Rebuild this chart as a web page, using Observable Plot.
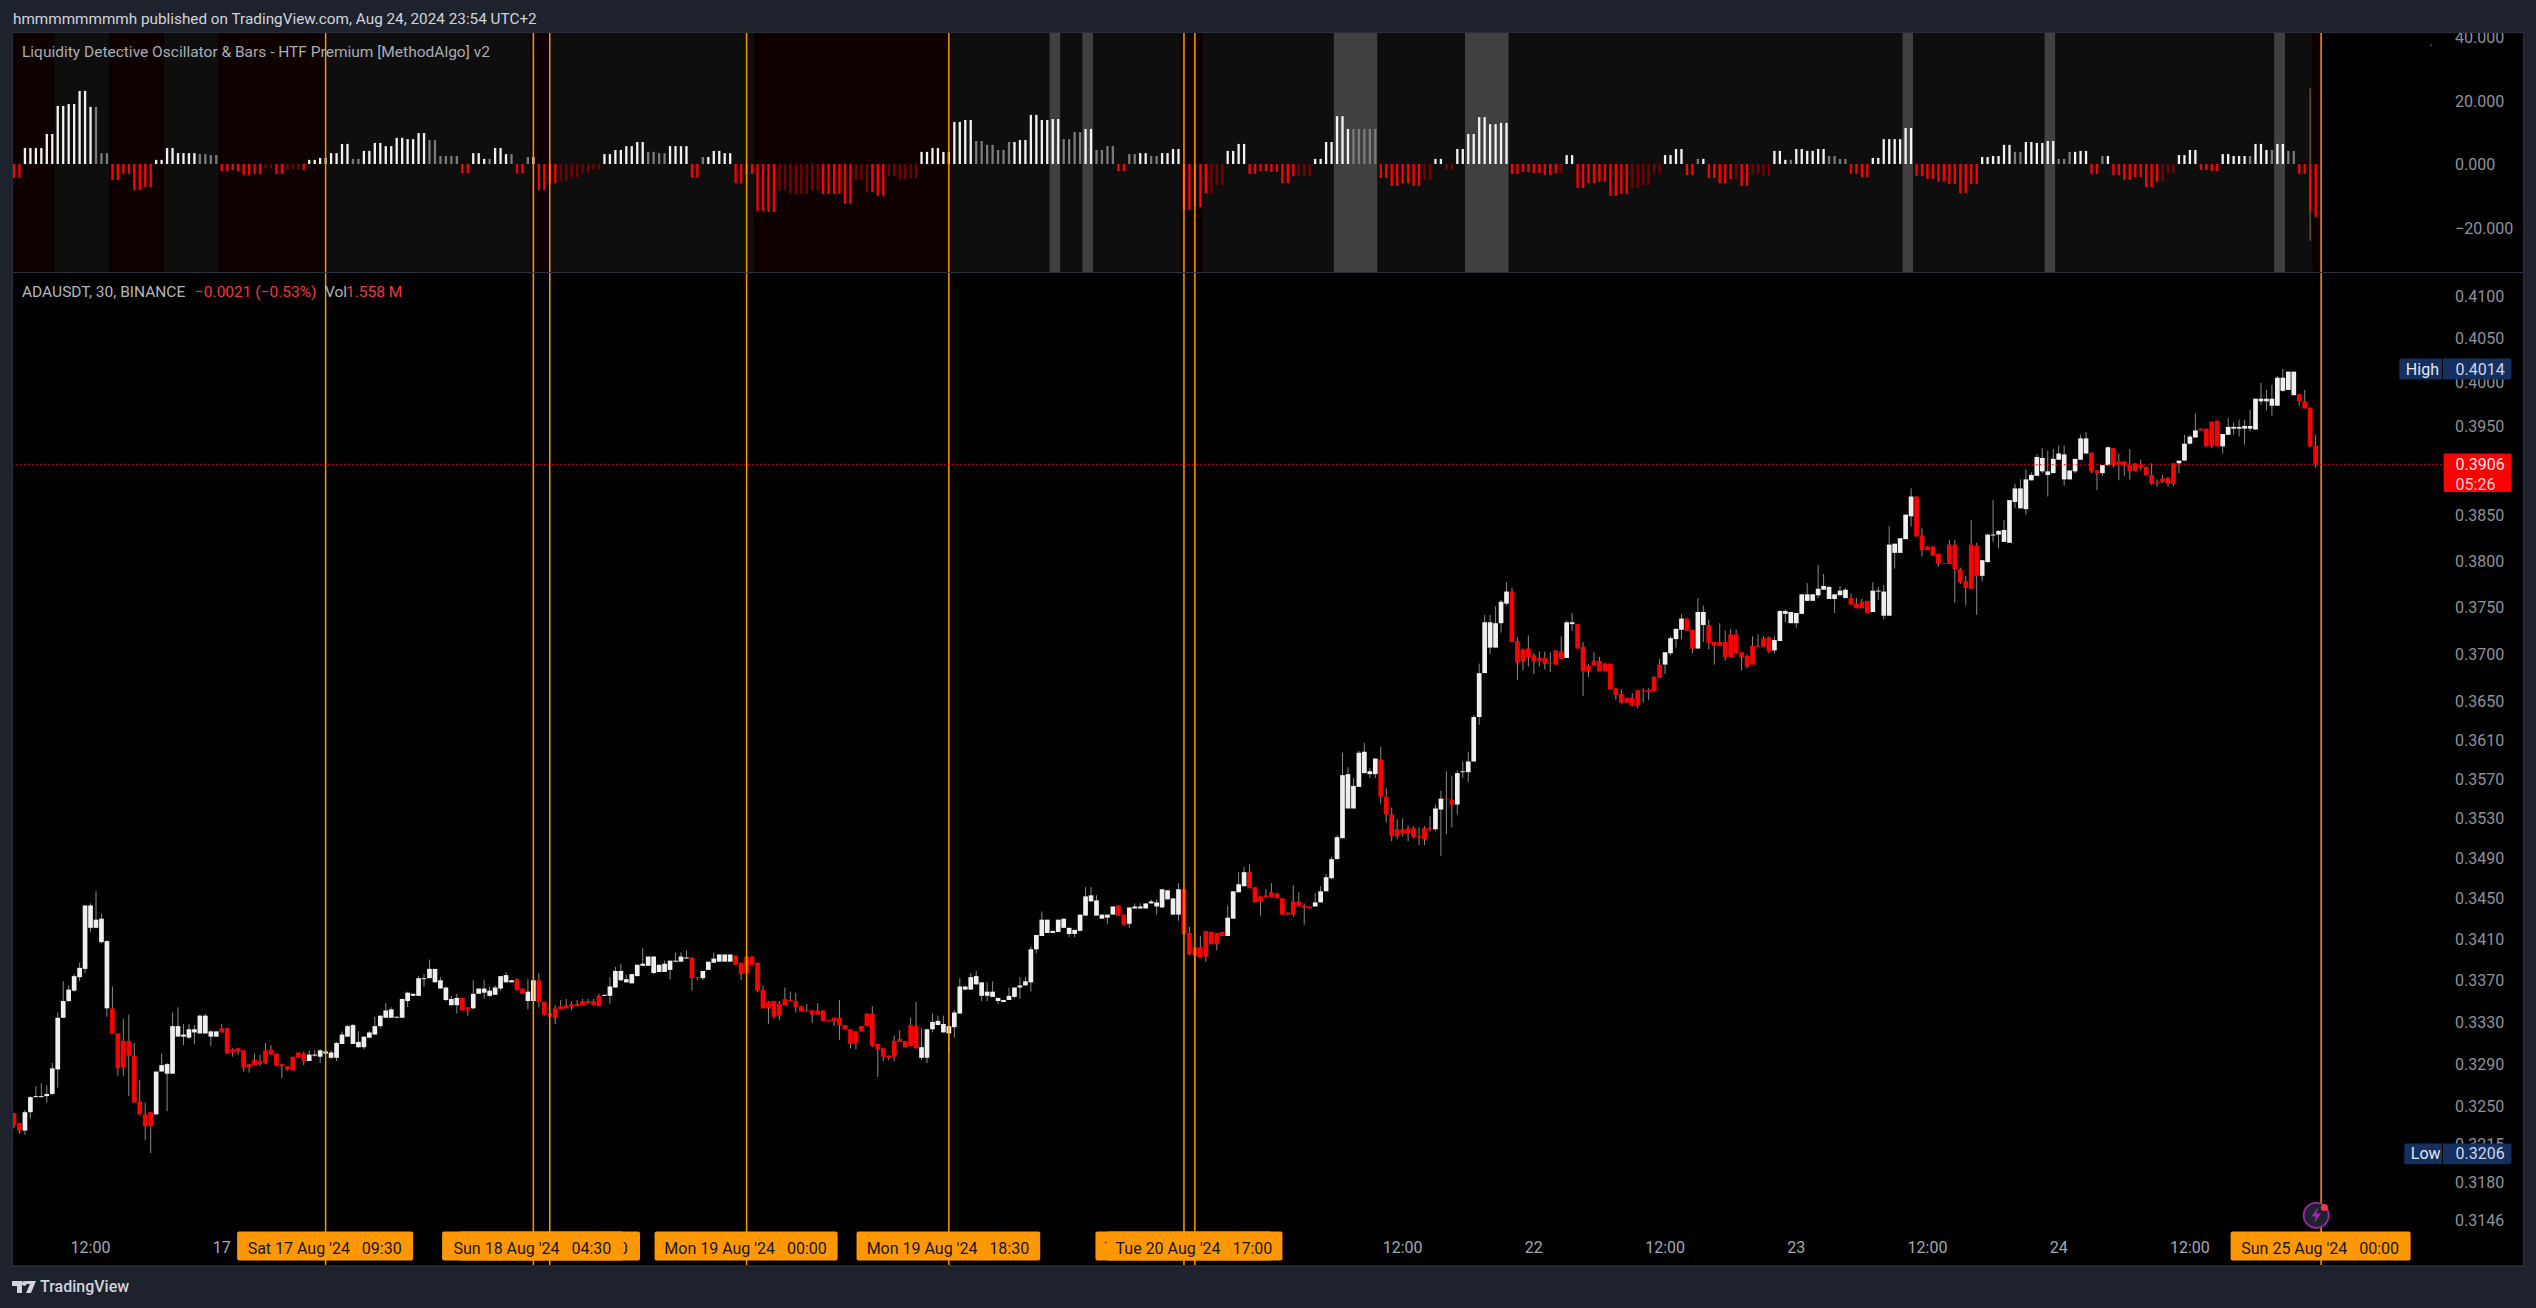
<!DOCTYPE html>
<html>
<head>
<meta charset="utf-8">
<script src="https://cdn.jsdelivr.net/npm/d3@7"></script>
<script src="https://cdn.jsdelivr.net/npm/@observablehq/plot@0.6"></script>
<style>
html,body{margin:0;padding:0;background:#1e222d;width:2536px;height:1308px;overflow:hidden;font-family:Roboto,sans-serif}
.t{position:absolute;white-space:pre;line-height:20px}
#oscPanel,#pricePanel{position:absolute;left:13px;width:2510px;background:#000}
#oscPanel{top:33px;height:239px}
#pricePanel{top:273px;height:992px}
#frame{position:absolute;left:12px;top:32px;width:2510px;height:1233px;border:1px solid #2a2e39}
#sep{position:absolute;left:13px;top:272px;width:2510px;height:1px;background:#2f333f}
svg{display:block}
</style>
</head>
<body>
<div id="frame"></div>
<div id="oscPanel"></div>
<div id="sep"></div>
<div id="pricePanel"></div>
<div class="t" style="left:13px;top:9px;color:#d1d4dc;font-size:15.3px">hmmmmmmmmh published on TradingView.com, Aug 24, 2024 23:54 UTC+2</div>
<div class="t" style="left:22px;top:42px;color:#a9acb4;font-size:15.5px">Liquidity Detective Oscillator &amp; Bars - HTF Premium [MethodAlgo] v2</div>
<div class="t" style="left:22px;top:282px;color:#b2b5be;font-size:15.5px">ADAUSDT, 30, BINANCE</div>
<div class="t" style="left:195px;top:282px;color:#f23645;font-size:15.5px">−0.0021 (−0.53%)</div>
<div class="t" style="left:325px;top:282px;color:#b2b5be;font-size:15.5px">Vol</div>
<div class="t" style="left:346px;top:282px;color:#f23645;font-size:15.5px">1.558 M</div>
<svg style="position:absolute;left:12px;top:1281px" width="24" height="13" viewBox="0 0 24 13"><path fill="#d1d4dc" d="M0 0h10v12H5V5H0zM14 0h10l-5 12h-5l4-9h-4z"/><circle cx="12.3" cy="2.5" r="2.4" fill="#d1d4dc"/></svg>
<div class="t" style="left:40px;top:1277px;color:#d1d4dc;font-size:16px;font-weight:500">TradingView</div>
<script>
// ---- prices, in units of 0.0001 USDT, one value per 30-minute bar ----
const bodyTop = [
3243,3234,3244,3258,3259,3259,3261,3285,3333,3349,
3360,3373,3381,3442,3442,3428,3429,3407,3342,3318,
3311,3311,3297,3254,3242,3244,3282,3288,3289,3325,
3325,3317,3322,3322,3335,3335,3320,3320,3323,3323,
3303,3304,3302,3289,3293,3292,3302,3303,3299,3289,
3287,3296,3300,3299,3298,3298,3302,3301,3300,3309,
3317,3325,3326,3310,3315,3319,3325,3335,3340,3341,
3334,3351,3357,3356,3371,3371,3380,3380,3369,3362,
3351,3352,3352,3343,3356,3361,3361,3359,3362,3373,
3374,3369,3370,3361,3358,3369,3369,3348,3337,3342,
3344,3345,3346,3346,3349,3349,3349,3354,3355,3363,
3378,3378,3370,3375,3384,3385,3392,3392,3384,3385,
3388,3388,3392,3391,3391,3372,3378,3387,3390,3394,
3394,3394,3393,3386,3392,3392,3386,3360,3348,3349,
3346,3351,3350,3349,3344,3340,3340,3340,3340,3331,
3333,3333,3326,3322,3320,3325,3337,3337,3308,3304,
3297,3311,3313,3311,3326,3325,3305,3322,3329,3330,
3327,3325,3338,3363,3363,3372,3373,3367,3358,3358,
3352,3350,3354,3362,3364,3368,3399,3413,3428,3428,
3417,3428,3429,3420,3418,3433,3451,3452,3447,3433,
3433,3441,3442,3433,3440,3441,3441,3444,3446,3445,
3458,3457,3449,3458,3458,3415,3401,3401,3417,3416,
3415,3416,3430,3456,3463,3475,3475,3460,3451,3452,
3455,3454,3449,3435,3446,3446,3442,3441,3445,3456,
3470,3488,3510,3573,3574,3562,3596,3597,3577,3590,
3589,3551,3533,3518,3518,3519,3519,3511,3519,3519,
3539,3549,3549,3548,3575,3577,3587,3633,3679,3733,
3733,3732,3755,3766,3766,3713,3704,3705,3698,3695,
3695,3690,3703,3702,3733,3733,3731,3707,3687,3692,
3692,3689,3689,3663,3657,3653,3653,3661,3661,3661,
3675,3688,3701,3716,3726,3737,3737,3725,3744,3744,
3730,3712,3712,3712,3720,3720,3701,3697,3708,3708,
3716,3717,3714,3745,3745,3744,3743,3763,3763,3763,
3769,3772,3771,3763,3767,3768,3759,3753,3755,3756,
3767,3767,3766,3817,3818,3824,3850,3870,3870,3827,
3815,3815,3807,3797,3817,3817,3790,3777,3817,3816,
3800,3828,3828,3832,3833,3866,3879,3879,3889,3894,
3914,3913,3898,3912,3918,3917,3899,3912,3935,3935,
3919,3899,3905,3925,3924,3909,3909,3905,3907,3906,
3903,3894,3886,3890,3891,3907,3910,3929,3937,3944,
3946,3946,3954,3955,3940,3948,3948,3948,3949,3949,
3980,3980,3980,3980,4004,4004,4011,4011,3985,3977,
3970,3927];
const bodyBottom = [
3232,3227,3227,3244,3258,3258,3259,3261,3284,3333,
3349,3359,3372,3380,3420,3420,3406,3342,3318,3285,
3286,3297,3253,3242,3231,3231,3242,3282,3280,3280,
3315,3315,3314,3319,3318,3318,3315,3315,3319,3299,
3300,3301,3286,3286,3288,3289,3290,3298,3288,3287,
3284,3283,3295,3292,3292,3297,3296,3299,3295,3295,
3308,3315,3308,3305,3305,3314,3317,3325,3333,3333,
3333,3333,3349,3354,3354,3370,3371,3367,3361,3350,
3345,3345,3340,3340,3342,3356,3357,3354,3355,3361,
3367,3367,3360,3356,3349,3349,3348,3336,3334,3333,
3341,3342,3343,3344,3345,3347,3345,3344,3354,3354,
3362,3369,3367,3366,3373,3383,3383,3376,3377,3377,
3379,3387,3387,3390,3371,3371,3371,3379,3386,3387,
3387,3387,3384,3375,3376,3384,3359,3342,3342,3334,
3335,3345,3349,3343,3339,3339,3336,3336,3330,3330,
3330,3326,3322,3308,3309,3320,3325,3306,3303,3296,
3295,3296,3310,3305,3306,3304,3295,3295,3322,3326,
3319,3318,3324,3337,3360,3360,3365,3354,3354,3353,
3349,3348,3350,3353,3362,3364,3367,3399,3412,3415,
3415,3416,3420,3414,3414,3417,3432,3446,3432,3429,
3430,3433,3432,3423,3424,3439,3439,3439,3444,3441,
3440,3448,3433,3433,3414,3394,3393,3391,3392,3404,
3404,3412,3412,3429,3455,3461,3459,3445,3446,3450,
3450,3449,3433,3433,3433,3441,3440,3439,3441,3445,
3456,3469,3488,3509,3539,3539,3561,3575,3574,3574,
3551,3533,3511,3511,3514,3514,3510,3510,3508,3518,
3518,3538,3548,3543,3543,3576,3576,3587,3633,3679,
3706,3706,3732,3753,3712,3690,3691,3696,3691,3692,
3689,3689,3688,3694,3695,3731,3705,3681,3681,3687,
3681,3681,3662,3656,3648,3648,3645,3645,3660,3659,
3660,3674,3688,3700,3715,3725,3724,3705,3705,3730,
3711,3708,3708,3696,3696,3700,3696,3686,3688,3707,
3707,3702,3703,3713,3742,3732,3732,3742,3756,3756,
3762,3768,3758,3758,3762,3759,3752,3748,3748,3743,
3744,3766,3740,3740,3808,3808,3823,3848,3826,3811,
3811,3805,3796,3796,3796,3790,3776,3770,3769,3783,
3783,3798,3827,3828,3820,3819,3864,3857,3856,3888,
3893,3898,3894,3896,3911,3889,3889,3898,3911,3918,
3898,3896,3896,3905,3905,3906,3905,3898,3898,3902,
3894,3884,3885,3886,3884,3884,3907,3910,3929,3936,
3944,3926,3926,3926,3926,3939,3946,3946,3946,3946,
3945,3977,3977,3972,3972,3989,3990,3984,3977,3969,
3926,3906];
const highs = [
3243,3234,3246,3259,3268,3271,3269,3290,3338,3368,
3364,3375,3386,3442,3444,3456,3434,3408,3363,3318,
3332,3336,3309,3274,3253,3244,3282,3299,3290,3338,
3343,3327,3327,3326,3336,3337,3321,3320,3327,3323,
3304,3304,3302,3289,3299,3298,3309,3307,3299,3289,
3287,3296,3300,3301,3302,3302,3303,3304,3302,3310,
3320,3326,3327,3320,3315,3320,3334,3335,3347,3343,
3334,3351,3358,3356,3373,3375,3389,3380,3372,3363,
3354,3356,3352,3343,3369,3361,3369,3363,3364,3373,
3377,3369,3371,3361,3370,3370,3376,3348,3337,3345,
3350,3351,3349,3350,3351,3351,3351,3356,3355,3372,
3382,3385,3374,3375,3384,3400,3392,3392,3384,3388,
3388,3396,3396,3398,3391,3372,3378,3387,3396,3394,
3394,3394,3393,3386,3392,3392,3386,3364,3349,3349,
3349,3362,3358,3357,3344,3346,3340,3347,3340,3331,
3333,3350,3326,3322,3320,3325,3337,3344,3308,3304,
3297,3316,3321,3311,3333,3348,3323,3322,3337,3335,
3335,3325,3340,3371,3363,3376,3378,3367,3367,3368,
3352,3350,3362,3362,3372,3372,3402,3413,3436,3428,
3417,3428,3429,3420,3418,3433,3460,3460,3452,3433,
3433,3441,3442,3433,3440,3444,3444,3444,3448,3448,
3458,3457,3449,3464,3458,3421,3401,3412,3417,3416,
3415,3416,3442,3456,3475,3480,3483,3460,3451,3458,
3464,3454,3449,3435,3462,3455,3444,3441,3454,3461,
3473,3490,3512,3596,3581,3570,3598,3606,3580,3590,
3602,3560,3540,3528,3529,3522,3521,3520,3521,3531,
3543,3557,3577,3572,3578,3587,3597,3635,3689,3741,
3741,3750,3757,3776,3770,3717,3705,3719,3700,3702,
3702,3701,3703,3718,3735,3743,3731,3712,3689,3701,
3696,3690,3689,3663,3662,3653,3658,3661,3663,3663,
3676,3694,3701,3718,3726,3742,3737,3725,3759,3751,
3736,3712,3732,3724,3726,3725,3701,3699,3718,3720,
3718,3718,3718,3746,3747,3744,3743,3763,3775,3763,
3795,3785,3772,3763,3772,3770,3764,3759,3758,3756,
3776,3771,3773,3837,3818,3824,3850,3879,3870,3835,
3815,3815,3807,3797,3822,3822,3792,3783,3844,3819,
3800,3829,3866,3833,3844,3866,3884,3889,3900,3897,
3917,3924,3921,3923,3927,3927,3899,3912,3939,3942,
3919,3899,3905,3926,3924,3918,3909,3923,3907,3911,
3903,3907,3889,3894,3891,3907,3910,3939,3939,3963,
3946,3946,3954,3955,3940,3958,3953,3956,3956,3967,
3980,3998,3990,3996,4006,4014,4011,4011,3985,3990,
3970,3939];
const lows = [
3229,3224,3223,3238,3258,3258,3253,3260,3267,3333,
3348,3358,3368,3376,3416,3420,3405,3334,3318,3278,
3278,3259,3253,3242,3218,3206,3241,3282,3245,3280,
3315,3307,3313,3308,3318,3318,3306,3315,3319,3299,
3296,3298,3282,3281,3288,3287,3289,3298,3287,3276,
3283,3283,3295,3288,3292,3296,3290,3299,3294,3292,
3308,3315,3308,3304,3303,3314,3317,3323,3333,3333,
3333,3333,3343,3354,3354,3363,3371,3367,3361,3349,
3345,3337,3340,3335,3341,3356,3351,3353,3355,3359,
3367,3367,3359,3356,3341,3349,3343,3335,3334,3327,
3341,3342,3340,3344,3345,3347,3345,3344,3354,3346,
3362,3368,3367,3366,3373,3383,3383,3375,3377,3377,
3370,3387,3387,3390,3359,3369,3369,3379,3386,3387,
3387,3387,3384,3369,3376,3384,3358,3342,3327,3332,
3331,3345,3349,3338,3339,3339,3328,3336,3330,3330,
3325,3312,3322,3304,3303,3320,3325,3305,3277,3292,
3293,3292,3310,3305,3306,3304,3293,3290,3319,3326,
3319,3300,3314,3337,3360,3360,3365,3349,3349,3353,
3346,3348,3350,3352,3351,3364,3358,3395,3412,3415,
3415,3416,3420,3411,3411,3417,3432,3446,3432,3429,
3424,3433,3432,3423,3420,3439,3439,3439,3444,3433,
3440,3448,3433,3427,3414,3393,3351,3391,3387,3404,
3398,3412,3412,3429,3455,3461,3459,3445,3432,3450,
3450,3449,3433,3433,3431,3441,3423,3439,3441,3445,
3456,3468,3488,3509,3539,3539,3561,3575,3570,3570,
3544,3525,3506,3508,3511,3506,3509,3502,3502,3516,
3516,3491,3513,3520,3533,3570,3566,3587,3625,3679,
3699,3706,3722,3751,3712,3672,3682,3686,3678,3686,
3683,3680,3688,3694,3695,3724,3705,3655,3675,3687,
3681,3681,3662,3651,3647,3648,3644,3642,3648,3651,
3660,3674,3678,3698,3706,3715,3724,3700,3705,3712,
3704,3688,3708,3692,3696,3700,3682,3684,3688,3707,
3707,3700,3700,3713,3733,3732,3727,3742,3756,3756,
3759,3768,3758,3743,3762,3759,3752,3748,3748,3743,
3744,3757,3736,3740,3791,3808,3823,3837,3826,3804,
3811,3805,3793,3796,3796,3754,3774,3751,3769,3741,
3777,3797,3820,3813,3820,3819,3857,3856,3850,3888,
3893,3896,3870,3896,3911,3882,3889,3896,3911,3918,
3896,3877,3893,3904,3902,3888,3893,3889,3898,3899,
3894,3883,3881,3885,3881,3882,3896,3910,3928,3936,
3944,3926,3924,3926,3918,3939,3939,3937,3928,3943,
3945,3973,3967,3960,3972,3988,3990,3984,3972,3969,
3925,3902];
// ---- oscillator, one value per bar ----
const oscillator = [
-4.3,-4.3,5,5,5,5,9.4,9.4,18.2,18.2,
18.8,18.8,22.9,22.9,17.9,17.9,3.4,3.4,-5,-5,
-3.1,-3.1,-8.2,-8.2,-7.2,-7.2,1.3,1.3,5,5,
3.4,3.4,3.4,3.4,3.1,3.1,2.8,2.8,-2.2,-2.2,
-1.9,-2.2,-3.4,-3.4,-3.1,-3.1,-1.3,-1.3,-3.1,-3.1,
-1.6,-1.6,-1.6,-1.9,1.3,1.3,1.9,1.9,3.4,3.4,
6.3,6.3,1.6,1.6,4.1,4.1,6.6,6.6,5.6,5.6,
8.2,8.2,7.8,7.8,9.7,9.7,7.5,7.5,2.5,2.5,
2.5,2.5,-2.8,-2.8,3.4,3.4,1.6,1.6,5,5,
3.1,3.1,-2.8,-2.8,2.2,2.2,-8.2,-8.2,-6,-6,
-5.3,-5.3,-4.1,-4.1,-2.8,-2.8,-1.6,-1.6,3.1,3.1,
4.4,4.4,5.6,5.6,6.9,6.9,3.8,3.8,3.4,3.4,
5.6,5.6,5.6,5.6,-4.3,-4.3,2.2,2.2,4.1,4.1,
3.4,3.4,-6,-6,-3.1,-3.1,-14.7,-14.7,-15,-15,
-8.2,-8.2,-9.4,-9.4,-9.4,-9.4,-8.2,-8.2,-9.4,-9.4,
-9.4,-9.4,-12.5,-12.5,-5,-5,-8.8,-8.8,-10,-10,
-3.8,-3.8,-4.7,-4.7,-4.4,-4.4,3.8,3.8,5,5,
3.8,3.8,13.2,13.2,13.8,13.8,7.2,7.2,6,6,
4.4,4.4,6.9,6.9,7.5,7.5,15.4,15.4,13.8,13.8,
14.1,14.1,7.8,7.8,10,10,11,11,4.4,4.4,
5.6,5.6,-2.2,-2.2,3.1,3.1,3.4,3.4,2.5,2.5,
3.4,3.4,4.7,4.7,-14.4,-14.4,-13.5,-13.5,-9.1,-9.1,
-6.6,-6.6,4.1,4.1,6.3,6.3,-3.1,-3.1,-2.2,-2.2,
-2.5,-2.5,-6,-6,-3.8,-3.8,-3.8,-3.8,1.6,1.6,
6.9,6.9,15,15,11,11,11,11,11,11,
-4.4,-4.4,-6.9,-6.9,-6,-6,-6.9,-6.9,-5,-5,
1.6,1.6,-1.9,-1.9,4.7,4.7,9.4,9.4,14.7,14.7,
12.5,12.5,12.9,12.9,-3.1,-3.1,-2.5,-2.5,-2.8,-2.8,
-3.4,-3.4,-2.8,-2.8,2.8,2.8,-7.5,-7.5,-6,-6,
-5.6,-5.6,-10,-10,-9.4,-9.4,-7.5,-7.5,-6.6,-6.6,
-2.8,-2.8,2.8,2.8,4.7,4.7,-3.4,-3.4,1.6,1.6,
-4.4,-4.4,-6,-6,-4.7,-4.7,-6.9,-6.9,-3.1,-3.1,
-3.8,-3.8,4.1,4.1,1.3,1.3,4.7,4.7,4.1,4.1,
4.7,4.7,2.5,2.5,1.6,1.6,-3.1,-3.1,-4.1,-4.1,
1.9,1.9,7.8,7.8,7.8,7.8,11.3,11.3,-3.8,-3.8,
-4.7,-4.7,-5.6,-5.6,-6.3,-6.3,-9.1,-9.1,-6.3,-6.3,
2.2,2.2,2.5,2.5,6,6,3.8,3.8,6.9,6.9,
6.6,6.6,7.2,7.2,1.6,1.6,3.8,3.8,4.1,4.1,
-3.1,-3.1,2.5,2.5,-3.4,-3.4,-5,-5,-4.1,-4.1,
-7.2,-7.2,-5.6,-5.6,-2.8,-2.8,2.8,2.8,4.4,4.4,
-1.9,-1.9,-2.2,-2.2,3.1,3.1,2.5,2.5,2.5,2.5,
6.3,6.3,4.4,4.4,6.3,6.3,4.1,4.1,-3.1,-3.1,
-15,-16.6];
// strong up (w), weak up (g), strong down (r), weak down (d)
const oscillatorState = (
"rrwwwwwwww"+"wwwwwgggrr"+"rrrrrrwwww"+"wwwwggggrr"+"rrrrrrddrr"+
"dddrwwwwww"+"wwggwwwwww"+"wwwwwwgggg"+"ggrrwwwgww"+"wgrrgwrrrr"+
"ddddddddww"+"wwwwwwgggg"+"wwwwrrgwww"+"wwrrrrrrrr"+"ddddddddrr"+
"rrrrdddrrr"+"ddddddwwww"+"wwwwwwgggg"+"gggwwwwwww"+"wwggggwwgg"+
"ggrrggwwgg"+"wwwwrrrrrd"+"ddwwwwrrrr"+"rrrrrdddww"+"wwwwwggggg"+
"rrrrrrrrdd"+"wwddwwwwww"+"wwwwrrrrrr"+"rrrdwwrrrr"+"rrrrrrdddd"+
"ddwwwwrrgw"+"rrrrrdrrdd"+"ddwwwgwwww"+"wwggggrrrr"+"wwwwwwwwrr"+
"rrrrrrrrrr"+"wwwwwwggww"+"wwwwgggwww"+"rrgwrrrrrr"+"rrrdddwwww"+
"rrrrwwwwwg"+"wwwgwwggrr"+"rr").split("");
// background session bands: from bar, to bar, kind
const bandFrom = [0,8,18,28,38,58,95,99,136,172,190,192,196,198,214,218,242,250,266,274,346,348,372,374,414,416,421];
const bandTo   = [8,18,28,38,58,95,99,136,172,190,192,196,198,214,218,242,250,266,274,346,348,372,374,414,416,421,422.5];
const bandKind = ["down","base","down","base","down","base","down","base","down","base","spike","base","spike","base","down","base","spike","base","spike","base","spike","base","spike","base","spike","base","down"];
// ---- time markers ----
const markerTimes = ["2024-08-17T09:30Z","2024-08-18T06:00Z","2024-08-18T04:30Z","2024-08-19T00:00Z","2024-08-19T18:30Z","2024-08-20T16:00Z","2024-08-20T17:00Z","2024-08-25T00:00Z"];
const markerLabels = ["Sat 17 Aug '24\u00a0\u00a0\u00a009:30","Sun 18 Aug '24\u00a0\u00a0\u00a006:00","Sun 18 Aug '24\u00a0\u00a0\u00a004:30","Mon 19 Aug '24\u00a0\u00a0\u00a000:00","Mon 19 Aug '24\u00a0\u00a0\u00a018:30","Tue 20 Aug '24\u00a0\u00a0\u00a016:00","Tue 20 Aug '24\u00a0\u00a0\u00a017:00","Sun 25 Aug '24\u00a0\u00a0\u00a000:00"];
const markerHalfHours = [8.05,8.3,8.3,8.37,8.4,8.05,8.05,8.23];
// ---- axes ----
const priceTicks = [0.3146,0.3180,0.3215,0.3250,0.3290,0.3330,0.3370,0.3410,0.3450,0.3490,0.3530,0.3570,0.3610,0.3650,0.3700,0.3750,0.3800,0.3850,0.3950,0.4000,0.4050,0.4100];
const oscTicks = [40,20,0,-20];
const timeTicks = ["2024-08-16T12:00Z","2024-08-17T00:00Z","2024-08-21T12:00Z","2024-08-22T00:00Z","2024-08-22T12:00Z","2024-08-23T00:00Z","2024-08-23T12:00Z","2024-08-24T00:00Z","2024-08-24T12:00Z"].map(s=>new Date(s));
const lastPrice = 0.3906, dayHigh = 0.4014, dayLow = 0.3206;

// ---- tables and helpers ----
const bar0 = Date.UTC(2024,7,16,5,0), HALF_HOUR = 18e5;
const barTime = i => new Date(bar0 + i*HALF_HOUR);
const xDomain = [new Date(Date.UTC(2024,7,16,4,57,15)), new Date(Date.UTC(2024,7,25,18,30,33))];
const bars = oscillator.map((v,i)=>({
  t:barTime(i), v, state:oscillatorState[i], up:v>=0?"up":"down",
  top:bodyTop[i]/1e4, bottom:bodyBottom[i]/1e4, high:highs[i]/1e4, low:lows[i]/1e4
}));
const bands = bandFrom.map((f,i)=>({a:barTime(f-0.5),b:barTime(bandTo[i]-0.5),k:bandKind[i]}));
const markers = markerTimes.map((s,i)=>({t:new Date(s),label:markerLabels[i],pad:markerHalfHours[i]*36e5}));
const ORANGE="#ff9800", LABEL="#8f929a";
const bolt = {draw(c,size){const s=Math.sqrt(size/Math.PI);
  [[.25,-1],[-.55,.15],[-.05,.15],[-.25,1],[.55,-.2],[.05,-.2]].forEach(([x,y],i)=>i?c.lineTo(x*s,y*s):c.moveTo(x*s,y*s));c.closePath();}};
const common = {width:2510,marginTop:0,marginBottom:0,marginLeft:0,marginRight:0,
  style:{background:"#000",fontFamily:"Roboto,sans-serif",fontSize:"16px",maxWidth:"none",overflow:"hidden"}};

// ---- oscillator pane ----
document.getElementById("oscPanel").append(Plot.plot({...common,height:239,
  x:{type:"utc",domain:xDomain,axis:null},
  y:{domain:[-33.86,41.07],axis:null},
  color:{domain:["w","g","r","d"],range:["#f2f2f2","#7b7b7b","#ff0000","#7a0000"]},
  marks:[
    Plot.rect(bands,{x1:"a",x2:"b",fill:d=>({down:"#0f0000",base:"#0e0e0e",spike:"#404040"})[d.k]}),
    Plot.ruleX([barTime(420)],{y1:[-24.1],y2:[23.8],stroke:"#4d4a1c",strokeWidth:1.8}),
    Plot.ruleX(bars,{x:"t",y1:0,y2:"v",stroke:"state",strokeWidth:2.3}),
    Plot.dot([{t:barTime(442.1),v:37.4}],{x:"t",y:"v",r:0.8,fill:"#777"}),
    Plot.ruleX(markers,{x:"t",stroke:ORANGE,strokeWidth:1.5}),
    Plot.axisY({anchor:"right",ticks:oscTicks,tickSize:0,tickPadding:0,dx:-68.5,dy:0.7,label:null,color:LABEL,tickFormat:d3.format(".3f")})
  ]}));

// ---- price pane ----
const boxFill="#15305e";
document.getElementById("pricePanel").append(Plot.plot({...common,height:992,
  x:{type:"utc",domain:xDomain,axis:null},
  y:{type:"log",domain:[0.3105,0.4126],axis:null},
  color:{domain:["up","down"],range:["#efefef","#ff0000"]},
  marks:[
    Plot.axisY({anchor:"right",ticks:priceTicks,tickSize:0,tickPadding:0,dx:-68.5,dy:1,label:null,color:LABEL,tickFormat:d3.format(".4f")}),
    Plot.axisX({anchor:"bottom",ticks:timeTicks,tickSize:0,tickPadding:0,dy:-24,label:null,color:"#a6a9b1",
      tickFormat:d=>d.getUTCHours()===12?"12:00":String(d.getUTCDate())}),
    Plot.ruleX(bars,{x:"t",y1:"low",y2:"high",stroke:"#8a8a8a",strokeWidth:1}),
    Plot.ruleX(bars,{x:"t",y1:"bottom",y2:"top",stroke:"up",strokeWidth:4.7}),
    Plot.ruleX(markers,{x:"t",stroke:ORANGE,strokeWidth:1.5}),
    Plot.ruleY([lastPrice],{x1:barTime(-1),x2:barTime(444.5),stroke:"#ff0000",strokeWidth:1,strokeDasharray:"1.5,2.5"}),
    // high / low / last price flags
    Plot.rect([0],{x1:barTime(436.4),x2:barTime(456.9),y1:0.4002,y2:0.4026,fill:boxFill,rx:2}),
    Plot.rect([0],{x1:barTime(437.3),x2:barTime(456.9),y1:0.3196,y2:0.3215,fill:boxFill,rx:2}),
    Plot.rect([0],{x1:barTime(444.5),x2:barTime(456.9),y1:0.3875,y2:0.3918,fill:"#ff0000",rx:1}),
    Plot.ruleX([barTime(444.2)],{y1:[0.4002],y2:[0.4026],stroke:"#000",strokeWidth:1}),
    Plot.ruleX([barTime(444.2)],{y1:[0.3196],y2:[0.3215],stroke:"#000",strokeWidth:1}),
    Plot.text(["High"],{x:barTime(437.5),y:dayHigh,textAnchor:"start",fill:"#e3e7f0"}),
    Plot.text(["Low"],{x:barTime(438.4),y:dayLow,textAnchor:"start",fill:"#e3e7f0"}),
    Plot.text([dayHigh.toFixed(4)],{x:barTime(446.6),y:dayHigh,textAnchor:"start",fill:"#cdd6e8"}),
    Plot.text([dayLow.toFixed(4)],{x:barTime(446.6),y:dayLow,textAnchor:"start",fill:"#cdd6e8"}),
    Plot.text([lastPrice.toFixed(4)],{x:barTime(446.6),y:lastPrice,textAnchor:"start",fill:"#ffe6e6"}),
    Plot.text(["05:26"],{x:barTime(446.6),y:0.3884,textAnchor:"start",fill:"#ffd0d0"}),
    // event marker
    Plot.dot([0],{x:barTime(421.1),y:0.3150,r:12.5,fill:"#1e222d",stroke:"#9c27b0",strokeWidth:1.8}),
    Plot.dot([0],{x:barTime(421.1),y:0.3150,r:8.5,symbol:bolt,fill:"#9c27b0",stroke:"none"}),
    Plot.dot([0],{x:barTime(422.6),y:0.3157,r:3.5,fill:"#f23645"}),
    // time flags
    ...markers.flatMap(m=>[
      Plot.rect([m],{x1:d=>new Date(+d.t-d.pad),x2:d=>new Date(+d.t+d.pad),y1:0.3109,y2:0.3135,fill:ORANGE,rx:2}),
      Plot.text([m],{x:"t",y:0.3120,dx:-1,text:"label",fill:"#131722"})
    ])
  ]}));
</script>
</body>
</html>
